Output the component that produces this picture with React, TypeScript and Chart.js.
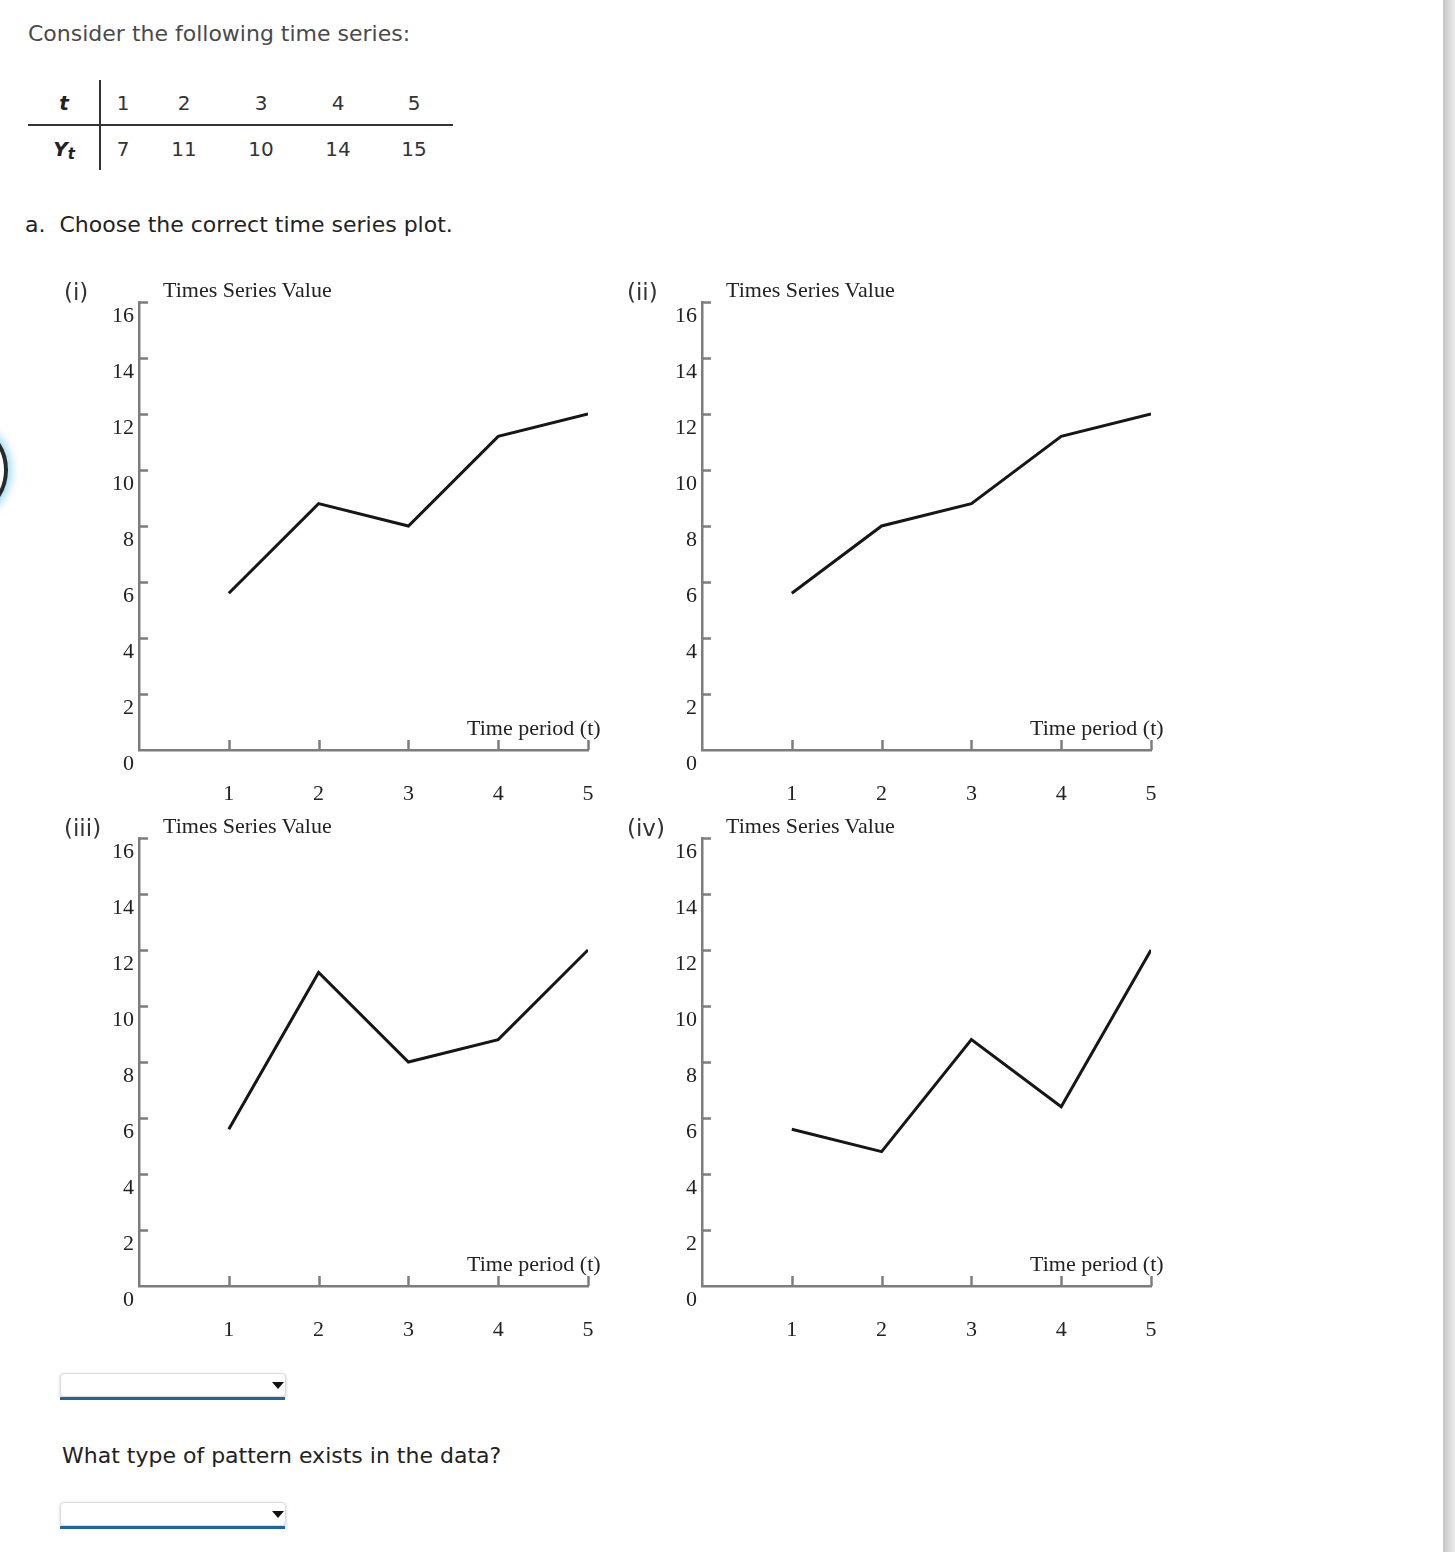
import React, { useEffect, useRef } from 'react';
import { Chart, registerables } from 'chart.js';

Chart.register(...registerables);

// ---- data ----
const periods = [1, 2, 3, 4, 5];
const observed = [7, 11, 10, 14, 15];
const plotI = [5.6, 8.8, 8, 11.2, 12];
const plotII = [5.6, 8, 8.8, 11.2, 12];
const plotIII = [5.6, 11.2, 8, 8.8, 12];
const plotIV = [5.6, 4.8, 8.8, 6.4, 12];
const yTickValues = [0, 2, 4, 6, 8, 10, 12, 14, 16];
const xMin = 0;
const xMax = 5;
const yMin = 0;
const yMax = 16;
const plotLabels = ['(i)', '(ii)', '(iii)', '(iv)'];
const yTitle = 'Times Series Value';
const xTitle = 'Time period (t)';

const AXIS = '#7d7d7d';
const SERIF = '"Liberation Serif", "Times New Roman", serif';
const SANS = '"DejaVu Sans", Verdana, sans-serif';

const CW = 570;
const CH = 560;

function PlotChart({ values, axisX, plotTop }: { values: number[]; axisX: number; plotTop: number }) {
  const ref = useRef<HTMLCanvasElement>(null);
  useEffect(() => {
    if (!ref.current) return;
    const tickMarks = {
      id: 'tickMarks',
      afterDraw(chart: any) {
        const { ctx, scales, chartArea } = chart;
        const x = scales.x;
        const y = scales.y;
        ctx.save();
        ctx.strokeStyle = AXIS;
        ctx.lineWidth = 2.5;
        ctx.beginPath();
        for (const v of yTickValues) {
          if (v === yMin) continue;
          const py = Math.round(y.getPixelForValue(v)) + 0.5;
          ctx.moveTo(chartArea.left, py);
          ctx.lineTo(chartArea.left + 9, py);
        }
        for (const v of periods) {
          const px = Math.round(x.getPixelForValue(v)) + 0.5;
          ctx.moveTo(px, chartArea.bottom);
          ctx.lineTo(px, chartArea.bottom - 10);
        }
        ctx.stroke();
        ctx.restore();
      },
    };
    const chart = new Chart(ref.current, {
      type: 'line',
      data: {
        datasets: [
          {
            data: periods.map((p, i) => ({ x: p, y: values[i] })),
            borderColor: '#161616',
            borderWidth: 3,
            pointRadius: 0,
            tension: 0,
            fill: false,
          },
        ],
      },
      options: {
        animation: false,
        responsive: false,
        events: [],
        layout: { padding: { left: 0, top: 40, right: 31, bottom: 0 } },
        plugins: { legend: { display: false }, tooltip: { enabled: false } },
        scales: {
          x: {
            type: 'linear',
            min: xMin,
            max: xMax,
            ticks: {
              stepSize: 1,
              padding: 31,
              color: '#222',
              font: { family: SERIF, size: 22 },
              maxRotation: 0,
              autoSkip: false,
              callback: (v: any) => (v === 0 ? '' : String(v)),
            },
            grid: { display: false, drawTicks: false },
            border: { display: true, color: AXIS, width: 2.5 },
            afterFit: (s: any) => {
              s.height = 72;
              s.paddingLeft = 0;
              s.paddingRight = 0;
            },
          },
          y: {
            type: 'linear',
            min: yMin,
            max: yMax,
            ticks: {
              stepSize: 2,
              padding: 5,
              labelOffset: 14,
              color: '#222',
              font: { family: SERIF, size: 22 },
            },
            grid: { display: false, drawTicks: false },
            border: { display: true, color: AXIS, width: 2.5 },
            afterFit: (s: any) => {
              s.width = 90;
              s.paddingTop = 0;
              s.paddingBottom = 0;
            },
          },
        },
      },
      plugins: [tickMarks],
    } as any);
    return () => chart.destroy();
  }, [values]);
  return (
    <canvas
      ref={ref}
      width={CW}
      height={CH}
      style={{ position: 'absolute', left: axisX - 90, top: plotTop - 40, width: CW, height: CH }}
    />
  );
}

function Txt({ x, y, size, color, family, children, weight, italic, center }: any) {
  const lh = Math.round(size * 1.5);
  return (
    <div
      style={{
        position: 'absolute',
        left: center ? x - 100 : x,
        width: center ? 200 : undefined,
        textAlign: center ? 'center' : 'left',
        top: y - lh / 2,
        lineHeight: lh + 'px',
        fontSize: size,
        color,
        fontFamily: family,
        fontWeight: weight || 'normal',
        fontStyle: italic ? 'italic' : 'normal',
        whiteSpace: 'nowrap',
      }}
    >
      {children}
    </div>
  );
}

function Dropdown({ top }: { top: number }) {
  return (
    <div style={{ position: 'absolute', left: 60, top, width: 226, height: 27 }}>
      <div
        style={{
          position: 'absolute',
          left: 0,
          top: 0,
          width: 224,
          height: 22,
          border: '1px solid #dcdcdc',
          borderRadius: 4,
          boxShadow: '0 1px 3px rgba(0,0,0,0.22)',
          background: '#fff',
        }}
      />
      <div
        style={{
          position: 'absolute',
          left: 212,
          top: 9,
          width: 0,
          height: 0,
          borderLeft: '6px solid transparent',
          borderRight: '6px solid transparent',
          borderTop: '7px solid #111',
        }}
      />
      <div style={{ position: 'absolute', left: 0, top: 24, width: 225, height: 3, background: '#1f64a0' }} />
    </div>
  );
}

export default function App() {
  useEffect(() => {
    document.body.style.margin = '0';
    document.body.style.overflow = 'hidden';
  }, []);
  const colX = [123, 184, 261, 338, 414];
  const charts = [
    { values: plotI, axisX: 139, plotTop: 302 },
    { values: plotII, axisX: 702, plotTop: 302 },
    { values: plotIII, axisX: 139, plotTop: 838 },
    { values: plotIV, axisX: 702, plotTop: 838 },
  ];
  return (
    <div style={{ position: 'relative', width: 1455, height: 1552, overflow: 'hidden', background: '#fff' }}>
      <Txt x={28} y={33} size={22} color="#4a4a4a" family={SANS}>
        Consider the following time series:
      </Txt>
      {/* table */}
      <Txt x={64} y={103} size={20} color="#222" family={SANS} weight="bold" italic center>
        t
      </Txt>
      <Txt x={64} y={149} size={20} color="#222" family={SANS} weight="bold" italic center>
        <span>Y</span>
        <sub style={{ fontSize: 15, verticalAlign: -3 }}>t</sub>
      </Txt>
      {periods.map((p, i) => (
        <Txt key={'p' + i} x={colX[i]} y={103} size={20} color="#333" family={SANS} center>
          {p}
        </Txt>
      ))}
      {observed.map((v, i) => (
        <Txt key={'v' + i} x={colX[i]} y={149} size={20} color="#333" family={SANS} center>
          {v}
        </Txt>
      ))}
      <div style={{ position: 'absolute', left: 99, top: 80, width: 2, height: 90, background: '#333' }} />
      <div style={{ position: 'absolute', left: 28, top: 124, width: 425, height: 2, background: '#333' }} />

      <Txt x={25} y={224} size={22} color="#222" family={SANS}>
        a.&nbsp; Choose the correct time series plot.
      </Txt>

      {charts.map((c, i) => (
        <React.Fragment key={'c' + i}>
          <PlotChart values={c.values} axisX={c.axisX} plotTop={c.plotTop} />
          <Txt x={c.axisX - 75} y={c.plotTop - 10} size={23} color="#333" family={SANS}>
            {plotLabels[i]}
          </Txt>
          <Txt x={c.axisX + 24} y={c.plotTop - 13} size={22} color="#222" family={SERIF}>
            {yTitle}
          </Txt>
          <Txt x={c.axisX + 328} y={c.plotTop + 425} size={22} color="#222" family={SERIF}>
            {xTitle}
          </Txt>
        </React.Fragment>
      ))}

      <Dropdown top={1373} />
      <Txt x={62} y={1455} size={22} color="#222" family={SANS}>
        What type of pattern exists in the data?
      </Txt>
      <Dropdown top={1502} />

      {/* left ring */}
      <div
        style={{
          position: 'absolute',
          left: -92,
          top: 420,
          width: 92,
          height: 92,
          borderRadius: '50%',
          border: '4px solid #2a2a2a',
          boxShadow: '0 0 8px 3px rgba(80,190,255,0.6)',
        }}
      />
      {/* right edge bar */}
      <div
        style={{
          position: 'absolute',
          left: 1443,
          top: 0,
          width: 12,
          height: 1552,
          background: 'linear-gradient(to right, #c4c4c4, #d6d6d6 40%, #ebebeb)',
        }}
      />
    </div>
  );
}
